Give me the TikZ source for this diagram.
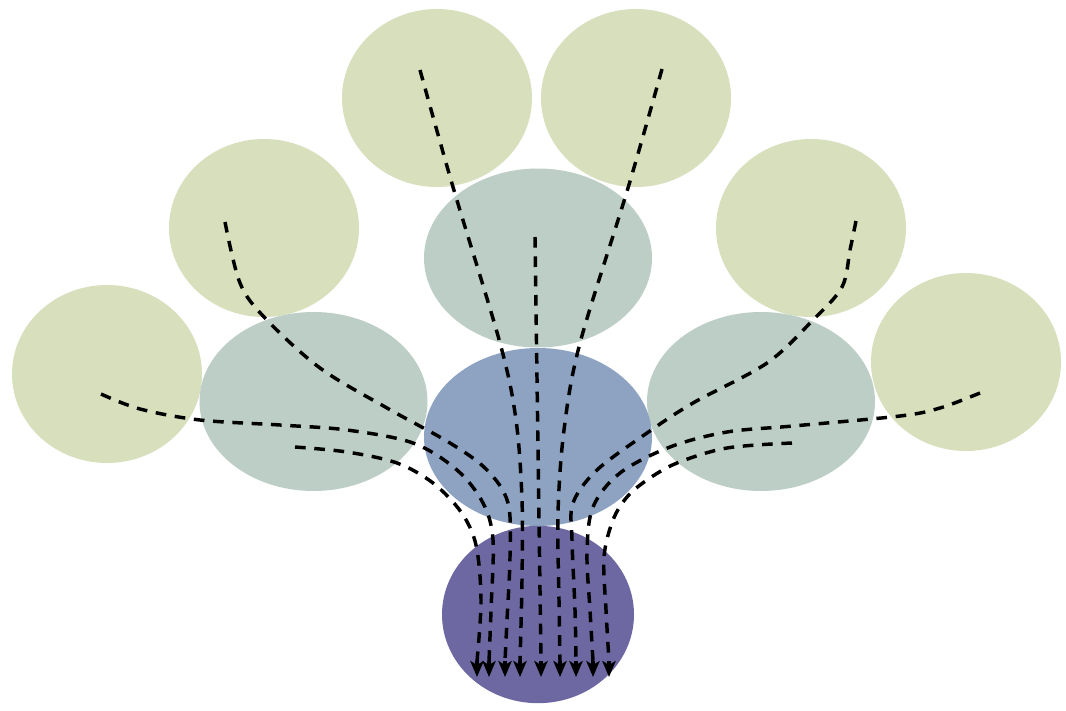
\documentclass[tikz,border=0pt]{standalone}
\usetikzlibrary{shapes.geometric, arrows.meta}
\definecolor{colOlive}{HTML}{D8DFBD}
\definecolor{colTeal}{HTML}{BCCEC6}
\definecolor{colBlue}{HTML}{8DA3C1}
\definecolor{colPurple}{HTML}{6E68A2}
\tikzset{
  blob/.style={ellipse, draw=none, inner sep=0pt, outer sep=0pt},
  oliveblob/.style={blob, fill=colOlive, minimum width=142.5pt, minimum height=133.5pt},
  tealblob/.style={blob, fill=colTeal, minimum width=171pt, minimum height=134.25pt},
  blueblob/.style={blob, fill=colBlue, minimum width=171pt, minimum height=133.5pt},
  purpleblob/.style={blob, fill=colPurple, minimum width=144pt, minimum height=133pt},
  flow/.style={draw=black, line width=2.6pt, dash pattern=on 8pt off 6.5pt},
  tipst/.style={draw=black, line width=2.6pt, solid,
    -{Stealth[length=12pt,width=10pt,inset=3pt]}}
}
\begin{document}
\begin{tikzpicture}[x=0.75pt, y=-0.75pt]
\fill[white] (0,0) rectangle (1066,710);
\useasboundingbox (0,0) rectangle (1066,710);

% olive ellipses
\node[oliveblob] (oTL) at (437,98) {};
\node[oliveblob] (oTR) at (636,98) {};
\node[oliveblob] (oML) at (264,228) {};
\node[oliveblob] (oMR) at (811,228) {};
\node[oliveblob] (oFL) at (107,374) {};
\node[oliveblob] (oFR) at (966,362) {};
% teal ellipses
\node[tealblob] (tTop) at (538,258) {};
\node[tealblob] (tL) at (313.5,401.5) {};
\node[tealblob] (tR) at (761,401.5) {};
% blue and purple
\node[blueblob] (bMid) at (538,437) {};
\node[purpleblob] (pBot) at (538,614.5) {};

% start points
\coordinate (sTL) at (420,70);
\coordinate (sC)  at (535,237);
\coordinate (sTR) at (662,69);
\coordinate (sML) at (225,222);
\coordinate (sFL) at (101,394);
\coordinate (sLT) at (295,447);
\coordinate (sMR) at (856,221);
\coordinate (sFR) at (980,393);
\coordinate (sRT) at (792,443);
% arrow bases
\coordinate (bLT) at (477,661);
\coordinate (bFL) at (489,661);
\coordinate (bML) at (505,661);
\coordinate (bTL) at (520,661);
\coordinate (bC)  at (541,661);
\coordinate (bTR) at (560,661);
\coordinate (bMR) at (576,661);
\coordinate (bFR) at (593,661);
\coordinate (bRT) at (609,661);
% arrow tips
\coordinate (eLT) at (477,677);
\coordinate (eFL) at (489,677);
\coordinate (eML) at (505,677);
\coordinate (eTL) at (520,677);
\coordinate (eC)  at (541,677);
\coordinate (eTR) at (560,677);
\coordinate (eMR) at (576,677);
\coordinate (eFR) at (593,677);
\coordinate (eRT) at (609,677);

% dashed connectors
\draw[flow] plot[smooth, tension=0.55] coordinates {(sTL) (453,187) (500,343) (516,420) (522,500) (522,580) (bTL)};
\draw[flow] (sC) -- (bC);
\draw[flow] plot[smooth, tension=0.55] coordinates {(sTR) (628,188) (580,343) (564,430) (558,513) (559,600) (bTR)};
\draw[flow] plot[smooth, tension=0.55] coordinates {(sML) (240,283) (265,318) (320,368) (387,408) (450,443) (487,470) (508,503) (510,557) (507,620) (bML)};
\draw[flow] plot[smooth, tension=0.55] coordinates {(sFL) (140,409) (200,420) (280,425) (347,430) (413,443) (457,470) (483,503) (493,540) (491,610) (bFL)};
\draw[flow] plot[smooth, tension=0.55] coordinates {(sLT) (347,452) (397,463) (433,483) (461,512) (476,545) (481,600) (bLT)};
\draw[flow] plot[smooth, tension=0.55] coordinates {(sMR) (850,250) (842,287) (813,320) (767,363) (693,403) (647,433) (597,470) (573,503) (572,540) (575,610) (bMR)};
\draw[flow] plot[smooth, tension=0.55] coordinates {(sFR) (940,408) (900,416) (793,426) (727,432) (670,447) (620,473) (593,507) (587,553) (590,610) (bFR)};
\draw[flow] plot[smooth, tension=0.55] coordinates {(sRT) (727,448) (677,463) (647,480) (627,497) (613,520) (604,557) (606,610) (bRT)};

% arrow tips
\foreach \n in {LT,FL,ML,TL,C,TR,MR,FR,RT} {
  \draw[tipst] (b\n) -- (e\n);
}
\end{tikzpicture}
\end{document}
